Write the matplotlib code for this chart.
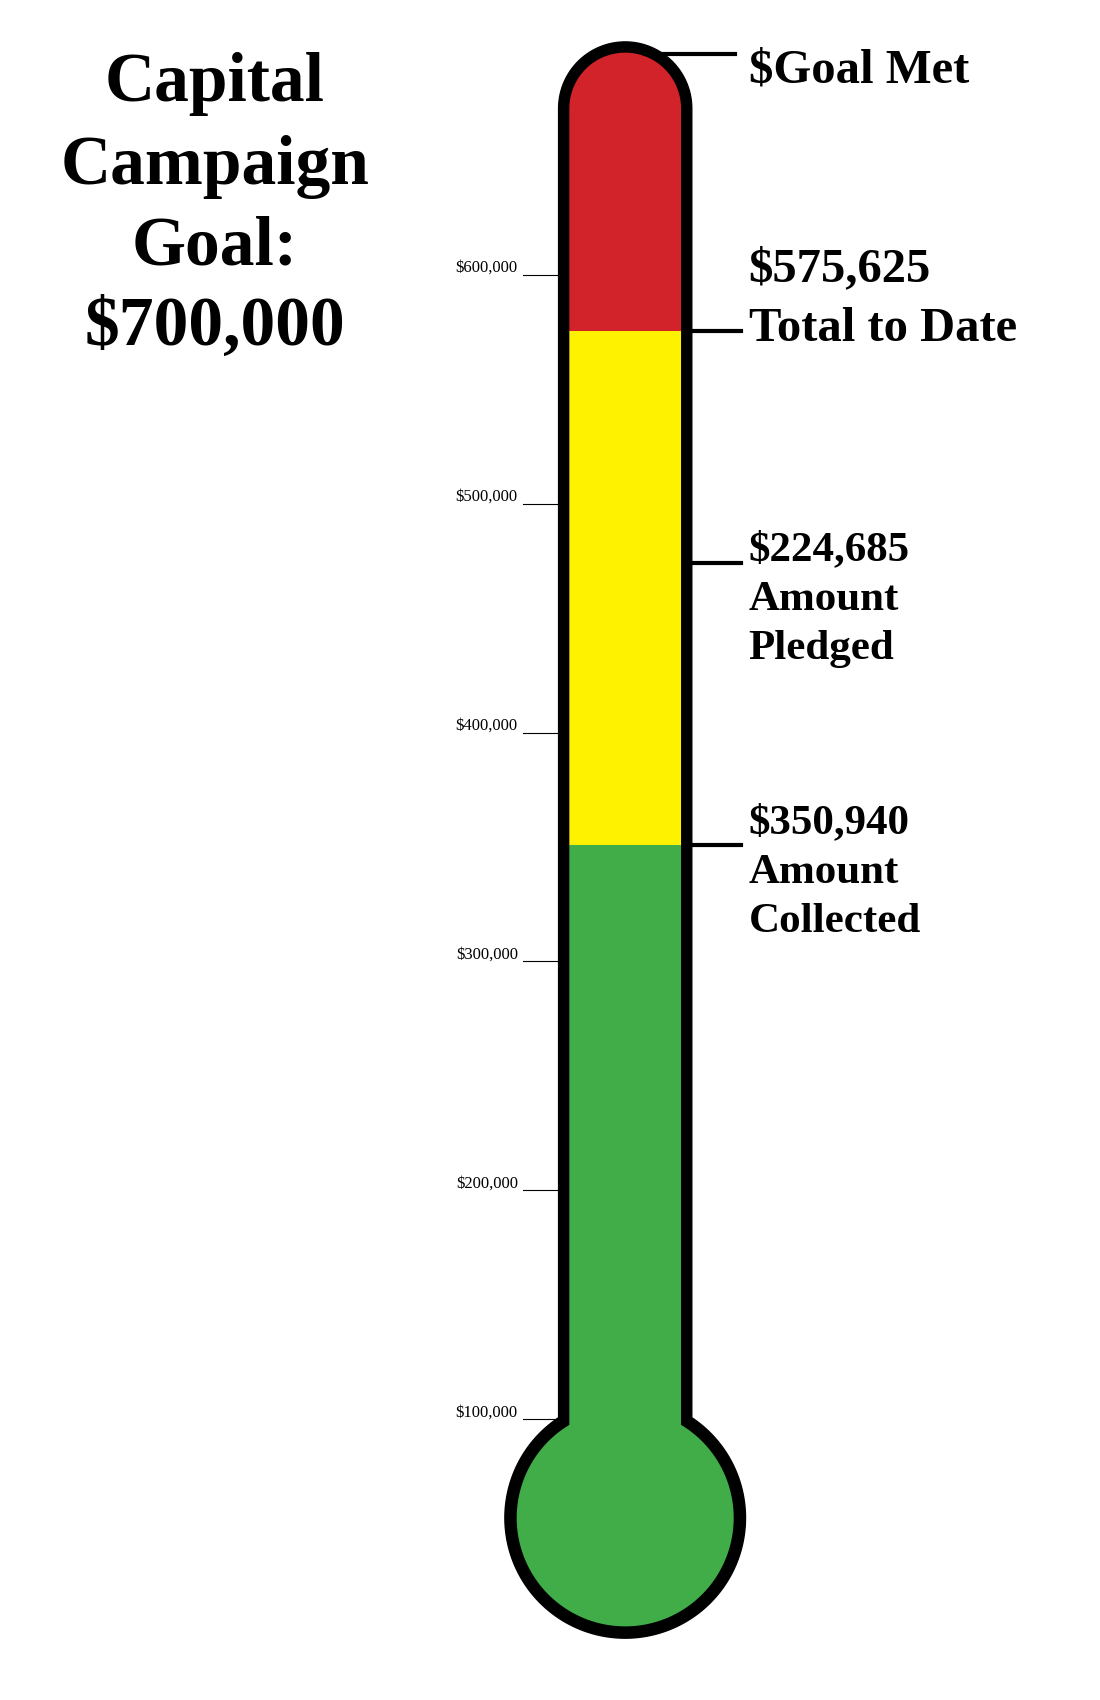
import matplotlib.pyplot as plt
import numpy as np

# data
goal = 700000
total_to_date = 575625
pledged = 224685
collected = 350940
tick_values = [100000, 200000, 300000, 400000, 500000, 600000]
tick_labels = ['$100,000', '$200,000', '$300,000', '$400,000', '$500,000', '$600,000']

red = '#D2232A'
yellow = '#FFF200'
green = '#41AD49'
font = 'Liberation Serif'

# scale: dollars per pixel of the reference layout
k = 100000 / 213.0
zero_px = 1534.0

def v(px):  # pixel row -> dollars
    return (zero_px - px) * k

fig = plt.figure(figsize=(11, 17), dpi=100)
ax = fig.add_axes([0, 0, 1, 1])
ax.set_xlim(0, 1024)
ax.set_ylim(v(1024 * 1700 / 1100), v(0))
ax.axis('off')

cx = 582.0
top_px = zero_px - goal / k
bulb_cy = 1413.0

def shape(half, R, top):
    # polygon: rounded tube top + bulb, in pixel coords, converted to dollars
    t = np.linspace(np.pi, 0, 60)
    arc_x = cx + half * np.cos(t)
    arc_y = top + half - half * np.sin(t)
    a0 = np.arcsin(half / R)
    b = np.linspace(np.pi / 2 - a0, -3 * np.pi / 2 + a0, 200)
    bx = cx + R * np.cos(b)
    by = bulb_cy - R * np.sin(b)
    xs = np.concatenate([arc_x, bx])
    ys = np.concatenate([arc_y, by])
    return np.column_stack([xs, v(ys)])

outer = plt.Polygon(shape(62, 112, top_px - 4), closed=True, color='black', zorder=1)
ax.add_patch(outer)
inner = plt.Polygon(shape(52, 101, top_px + 6), closed=True, facecolor='none', edgecolor='none')
ax.add_patch(inner)

bottom = v(1600)
segments = [(bottom, collected - bottom, green),
            (collected, total_to_date - collected, yellow),
            (total_to_date, goal + 20000 - total_to_date, red)]
for b0, h, c in segments:
    bars = ax.bar(cx, h, bottom=b0, width=300, color=c, zorder=2)
    for bar in bars:
        bar.set_clip_path(inner)

# scale ticks on the left
for val, lab in zip(tick_values, tick_labels):
    ax.plot([487, 519], [val, val], color='black', lw=0.8, zorder=3)
    ax.text(482, val + 3000, lab, ha='right', va='center', fontsize=12, family=font)

# right-hand annotations
lw = 3
ax.plot([600, 684], [v(50), v(50)], color='black', lw=lw)
ax.text(697, v(66), '$Goal Met', ha='left', va='center', fontsize=35, family=font, fontweight='bold')

ax.plot([644, 690], [total_to_date, total_to_date], color='black', lw=lw)
ax.text(697, v(251), '$575,625', ha='left', va='center', fontsize=35, family=font, fontweight='bold')
ax.text(697, v(306), 'Total to Date', ha='left', va='center', fontsize=35, family=font, fontweight='bold')

mid = collected + pledged / 2 + 11000
ax.plot([644, 690], [mid, mid], color='black', lw=lw)
ax.text(697, v(512), '$224,685', ha='left', va='center', fontsize=31, family=font, fontweight='bold')
ax.text(697, v(559), 'Amount', ha='left', va='center', fontsize=31, family=font, fontweight='bold')
ax.text(697, v(604), 'Pledged', ha='left', va='center', fontsize=31, family=font, fontweight='bold')

ax.plot([644, 690], [collected, collected], color='black', lw=lw)
ax.text(697, v(766), '$350,940', ha='left', va='center', fontsize=31, family=font, fontweight='bold')
ax.text(697, v(813), 'Amount', ha='left', va='center', fontsize=31, family=font, fontweight='bold')
ax.text(697, v(858), 'Collected', ha='left', va='center', fontsize=31, family=font, fontweight='bold')

# title
for y_px, line in zip([78, 155, 230, 305], ['Capital', 'Campaign', 'Goal:', '$700,000']):
    ax.text(200, v(y_px), line, ha='center', va='center', fontsize=50, family=font, fontweight='bold')

fig.savefig('out.png', dpi=100)
